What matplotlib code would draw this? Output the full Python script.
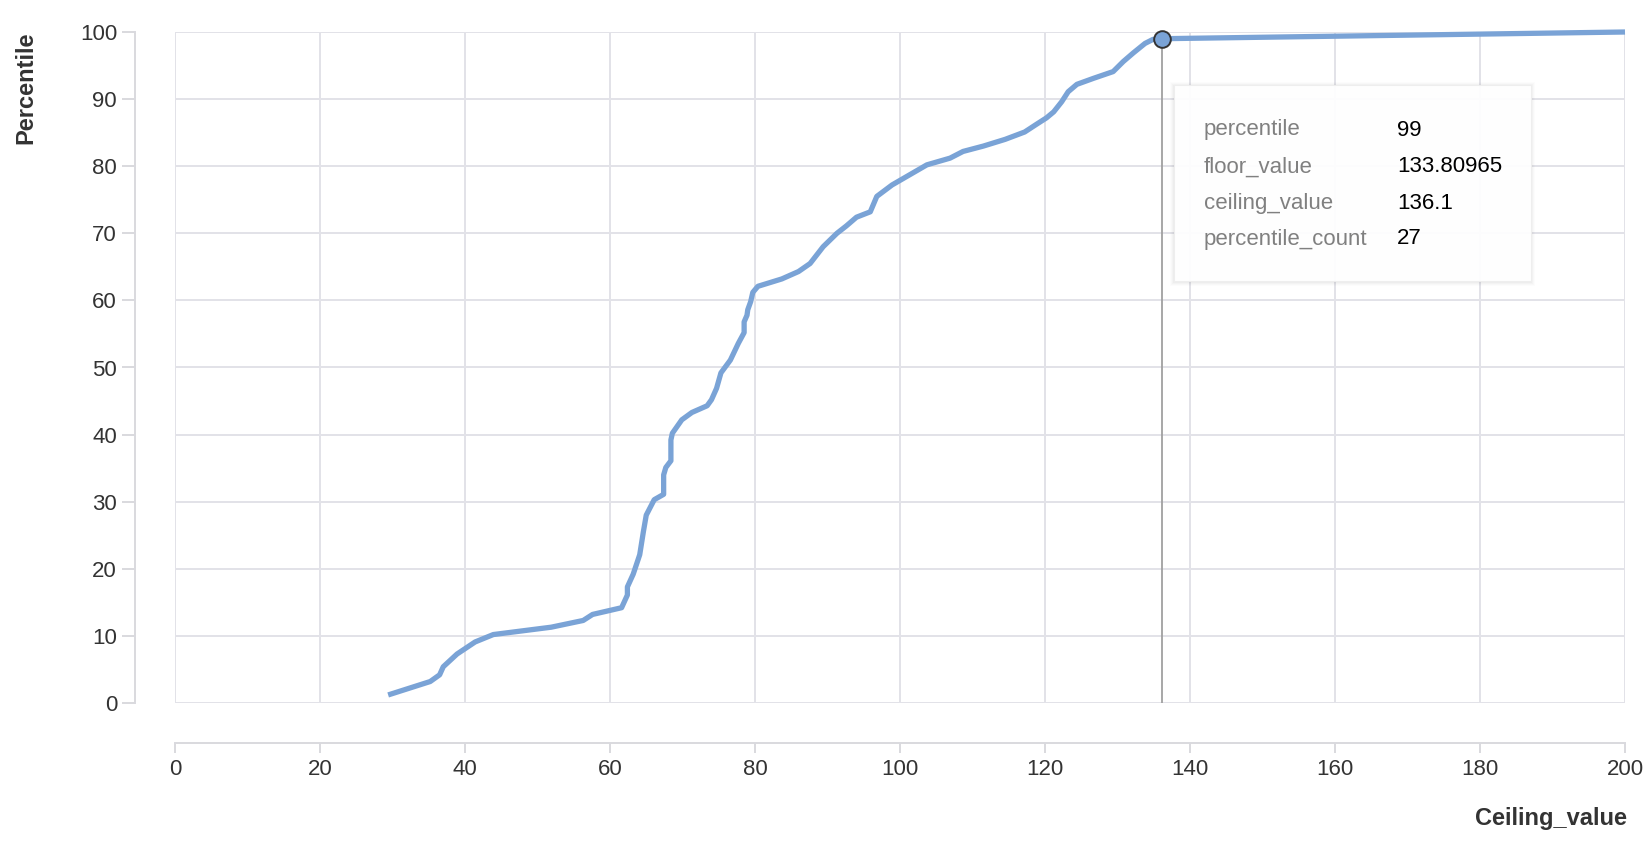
import matplotlib
matplotlib.use("Agg")
import matplotlib.pyplot as plt
from matplotlib.patches import FancyBboxPatch

plt.rcParams['font.family'] = ['Liberation Sans', 'DejaVu Sans']

# ---- data ----
ceiling_value = [29.4, 35.2, 36.5, 37.0, 38.9, 41.4, 43.9, 51.9, 56.3, 57.6,
                 61.6, 62.4, 62.4, 63.2, 64.1, 64.6, 65.0, 66.1, 67.4, 67.4,
                 67.7, 68.4, 68.4, 68.6, 69.9, 71.3, 73.4, 74.0, 74.7, 75.3,
                 76.6, 77.7, 78.2, 78.5, 78.5, 78.9, 79.0, 79.4, 79.7, 80.4,
                 83.7, 86.0, 87.6, 89.4, 91.3, 92.6, 94.0, 95.9, 96.8, 98.9,
                 100.5, 103.7, 106.9, 108.7, 111.5, 114.5, 117.2, 118.9, 120.2, 121.2,
                 122.3, 123.2, 124.4, 126.7, 129.4, 130.8, 132.2, 133.8, 134.9, 136.1,
                 200.0]
percentile = [1.2, 3.2, 4.2, 5.4, 7.3, 9.1, 10.2, 11.3, 12.3, 13.2,
              14.2, 16.1, 17.3, 19.2, 22.1, 25.5, 28.0, 30.3, 31.1, 34.0,
              35.1, 36.1, 39.2, 40.2, 42.2, 43.3, 44.3, 45.2, 46.9, 49.2,
              51.1, 53.6, 54.6, 55.2, 56.8, 57.8, 58.6, 59.8, 61.2, 62.1,
              63.2, 64.3, 65.5, 68.0, 70.0, 71.1, 72.4, 73.2, 75.5, 77.2,
              78.2, 80.2, 81.2, 82.2, 83.0, 84.0, 85.1, 86.3, 87.2, 88.1,
              89.6, 91.1, 92.2, 93.1, 94.1, 95.6, 96.9, 98.3, 98.9, 99.0,
              100.0]

highlight_x = 136.1
highlight_y = 99

tooltip_fields = ["percentile", "floor_value", "ceiling_value", "percentile_count"]
tooltip_values = ["99", "133.80965", "136.1", "27"]

x_ticks = list(range(0, 201, 20))
y_ticks = list(range(0, 101, 10))

# ---- figure ----
W, H = 1650, 846
PX = 72 / 100  # points per pixel
fig = plt.figure(figsize=(W / 100, H / 100), dpi=100)
ax = fig.add_axes([175 / W, 1 - 703 / H, 1450 / W, 671 / H])

line_color = "#7aa3d6"
grid_color = "#e2e2e8"
axis_color = "#d9d9de"
text_color = "#333333"

ax.plot(ceiling_value, percentile, color=line_color, lw=3.8,
        solid_joinstyle="round", solid_capstyle="butt", clip_on=False, zorder=3)
ax.vlines(highlight_x, 0, highlight_y, color="#a0a0a0", lw=1.3, zorder=2)
ax.plot([highlight_x], [highlight_y], marker="o", ms=12, mfc=line_color,
        mec="#333333", mew=1.4, clip_on=False, zorder=4)

ax.set_xlim(0, 200)
ax.set_ylim(0, 100)
ax.set_xticks(x_ticks)
ax.set_yticks(y_ticks)
ax.grid(True, color=grid_color, lw=1.4, zorder=0)
ax.set_axisbelow(True)

for s in ["top", "right"]:
    ax.spines[s].set_visible(False)
for s in ["left", "bottom"]:
    ax.spines[s].set_position(("outward", 40 * PX))
    ax.spines[s].set_color(axis_color)
    ax.spines[s].set_linewidth(1.4)

ax.tick_params(axis="both", colors=axis_color, width=1.4, labelcolor=text_color,
               labelsize=16)
ax.tick_params(axis="y", length=13 * PX, pad=5 * PX)
ax.tick_params(axis="x", length=10 * PX, pad=6 * PX)

ax.set_xlabel("Ceiling_value", fontsize=17, fontweight="bold", color=text_color,
              loc="right")
ax.xaxis.set_label_coords(1.0017, -0.155)
ax.set_ylabel("Percentile", fontsize=17, fontweight="bold", color=text_color,
              loc="top")
ax.yaxis.set_label_coords(-0.095, 1.0)

# ---- tooltip ----
bx0, by0, bx1, by1 = 1174, 85, 1531, 281
for i, a in enumerate([0.025, 0.02, 0.015, 0.01]):
    d = i + 1
    fig.add_artist(FancyBboxPatch(((bx0 - d) / W, 1 - (by1 + d + 1) / H),
                                  (bx1 - bx0 + 2 * d) / W, (by1 - by0 + 2 * d) / H,
                                  boxstyle="square,pad=0", transform=fig.transFigure,
                                  facecolor="black", edgecolor="none", alpha=a,
                                  zorder=9))
fig.add_artist(FancyBboxPatch((bx0 / W, 1 - by1 / H), (bx1 - bx0) / W, (by1 - by0) / H,
                              boxstyle="square,pad=0", transform=fig.transFigure,
                              facecolor="white", edgecolor="#eeeeee", lw=0.8,
                              alpha=0.96, zorder=10))
row_y = [130, 167, 203, 239]
for fld, val, ry in zip(tooltip_fields, tooltip_values, row_y):
    fig.text(1204 / W, 1 - ry / H, fld, fontsize=16, color="#808080",
             ha="left", va="center", zorder=11)
    fig.text(1397 / W, 1 - ry / H, val, fontsize=16, color="#000000",
             ha="left", va="center", zorder=11)

fig.savefig("out.png", dpi=100)
